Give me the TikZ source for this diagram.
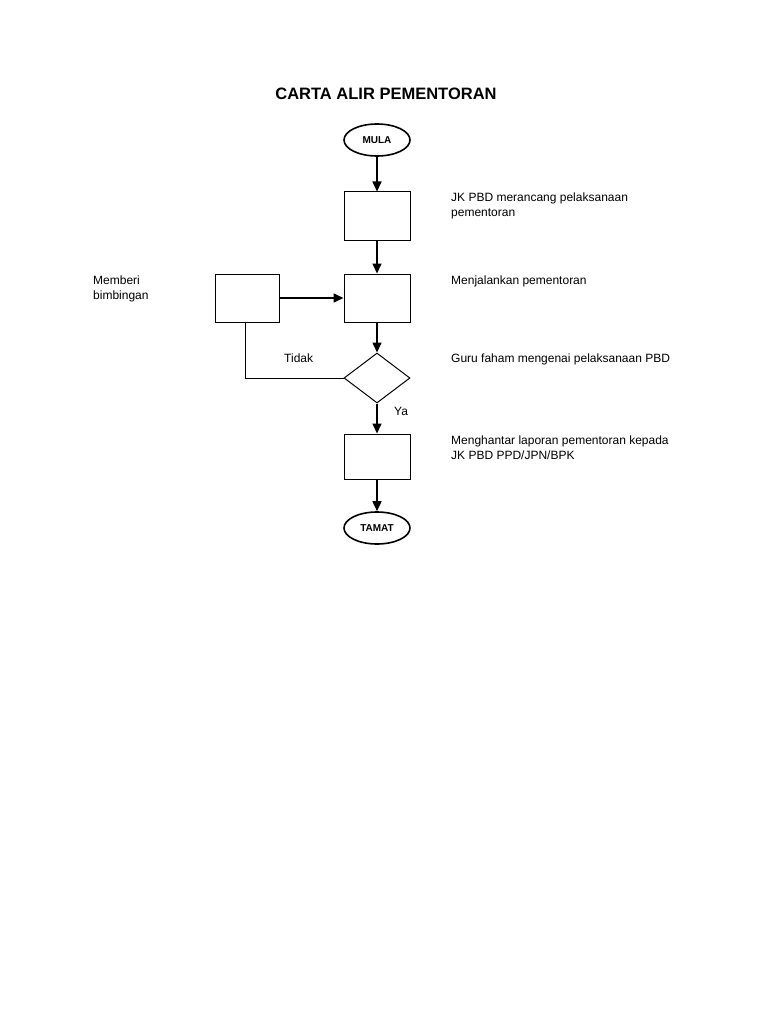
\documentclass[tikz,border=0pt]{standalone}
\usepackage{fontspec}
\setmainfont{Liberation Sans}
\usetikzlibrary{shapes.geometric,arrows.meta}
\begin{document}
\begin{tikzpicture}[x=1pt,y=-1pt,
  box/.style={draw,line width=1pt,minimum width=66pt,minimum height=48pt,inner sep=0},
  term/.style={draw,ellipse,line width=1.6pt,minimum width=66pt,minimum height=32pt,inner sep=0,font=\fontsize{10}{12}\selectfont\bfseries},
  arr/.style={line width=1.6pt,-{Triangle[length=10pt,width=9pt]}},
  lbl/.style={anchor=north west,align=left,inner sep=0,font=\fontsize{12}{15}\selectfont}]
\useasboundingbox (0,0) rectangle (768,1024);
\node[font=\fontsize{16.5}{20}\selectfont\bfseries] (title) at (386,94) {CARTA ALIR PEMENTORAN};
\node[term] (mula) at (377,140) {MULA};
\node[box] (b1) at (377,216) {};
\node[box] (b2) at (377,298) {};
\node[box,minimum width=64pt] (bl) at (247,298) {};
\node[draw,diamond,line width=1pt,minimum width=66pt,minimum height=50pt,aspect=1.3,inner sep=0] (d) at (377,378) {};
\node[box,minimum height=45pt] (b3) at (377,456.5) {};
\node[term] (tamat) at (377,528) {TAMAT};
\draw[arr] (mula) -- (b1);
\draw[arr] (b1) -- (b2);
\draw[arr] (bl) -- (b2);
\draw[arr] (b2) -- (d);
\draw[arr] (d) -- (b3);
\draw[arr] (b3) -- (tamat);
\coordinate (c) at (245,378);
\draw[line width=1pt] (d.west) -- (c) -- (245,322);
\node[lbl] (t1) at (451,193) {JK PBD merancang pelaksanaan\\pementoran};
\node[lbl] (t2) at (451,276) {Menjalankan pementoran};
\node[lbl] (t3) at (451,354) {Guru faham mengenai pelaksanaan PBD};
\node[lbl] (t4) at (451,436) {Menghantar laporan pementoran kepada\\JK PBD PPD/JPN/BPK};
\node[lbl] (t5) at (93,276) {Memberi\\bimbingan};
\node[lbl] (td) at (284,354) {Tidak};
\node[lbl] (ya) at (394,407) {Ya};
\end{tikzpicture}
\end{document}
